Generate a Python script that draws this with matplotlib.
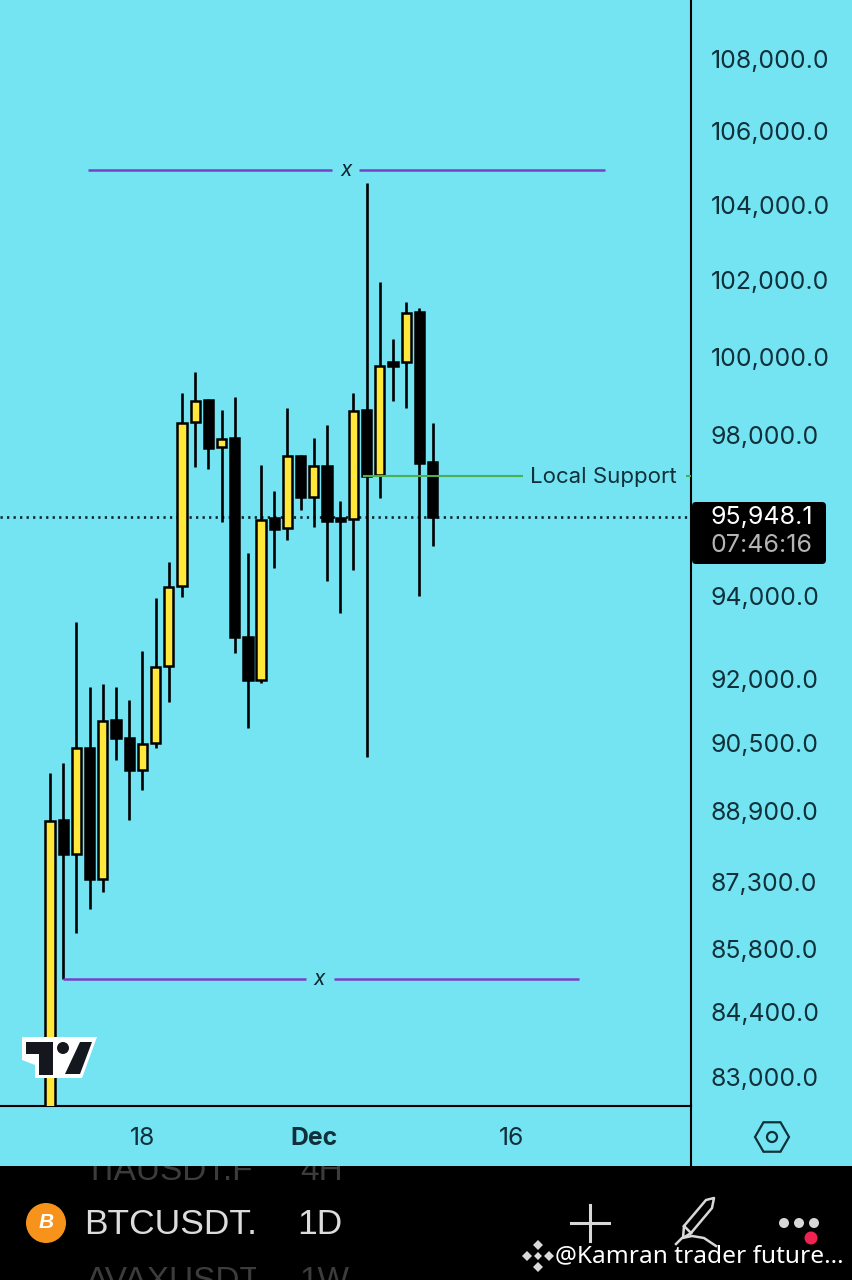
import matplotlib
matplotlib.use("Agg")
import matplotlib.pyplot as plt
from matplotlib.patches import Rectangle, FancyBboxPatch, Polygon, Circle, RegularPolygon

# ---------- data (daily BTCUSDT candles) ----------
opens = [80400, 88703, 87930, 90372, 87363, 91028, 90605, 89861, 90489, 92310,
         94241, 98319, 98888, 97688, 97915, 93003, 91975, 95912, 95663, 97462,
         96436, 97210, 95912, 95888, 98631, 96985, 99860, 99860, 101162, 97311]
closes = [88680, 87930, 90372, 87363, 91005, 90605, 89861, 90466, 92286, 94217,
          98293, 98862, 97663, 97890, 93003, 91975, 95863, 95638, 97462, 96436,
          97210, 95838, 95838, 98605, 96960, 99756, 99756, 101135, 97286, 95948.1]
highs = [89790, 90023, 93361, 91808, 91880, 91808, 91501, 92668, 93948, 94826,
         99063, 99602, 98913, 98631, 98964, 95048, 97235, 96586, 98682, 97487,
         97915, 98242, 96336, 99063, 104593, 101949, 100455, 101425, 101267, 98293]
lows = [79800, 85130, 86148, 86688, 87069, 90093, 88703, 89403, 90372, 91454,
        93972, 97185, 97135, 95817, 92620, 90841, 91903, 94680, 95369, 96111,
        95687, 94363, 93588, 94630, 90163, 96411, 98862, 98682, 93997, 95223]

price_ticks = [108000, 106000, 104000, 102000, 100000, 98000, 94000, 92000,
               90500, 88900, 87300, 85800, 84400, 83000]
price_labels = ["108,000.0", "106,000.0", "104,000.0", "102,000.0", "100,000.0",
                "98,000.0", "94,000.0", "92,000.0", "90,500.0", "88,900.0",
                "87,300.0", "85,800.0", "84,400.0", "83,000.0"]
date_ticks = [7, 20, 35]
date_labels = ["18", "Dec", "16"]

last_price = 95948.1
upper_level = 104950
lower_level = 85130
support_level = 96960

BG = "#74E4F3"
YEL = "#FFE83A"
PUR = "#7A3FC8"
GRN = "#4CAF50"
FONT = "Inter"

plt.rcParams["font.family"] = [FONT, "DejaVu Sans"]

fig = plt.figure(figsize=(8.52, 12.8), dpi=100, facecolor=BG)
W, H = 852, 1280
ax = fig.add_axes([0, (H - 1106) / H, 691 / W, 1106 / H], facecolor=BG)
ax.set_yscale("log")
ax.set_ylim(82380, 109661)
ax.set_xlim(-3.797, 48.6)

# candles
idx = list(range(len(opens)))
ax.vlines(idx, lows, highs, color="black", lw=1.9, zorder=3)
for i, o, c in zip(idx, opens, closes):
    up = c >= o
    ax.bar(i, abs(c - o), bottom=min(o, c), width=0.7,
           color=YEL if up else "black", edgecolor="black", linewidth=1.8, zorder=4)

# last price line
ax.axhline(last_price, color="#08222a", lw=1.9, dashes=(0.85, 1.62), zorder=2)

# drawn levels
ax.hlines(upper_level, 2.89, 21.4, color=PUR, lw=1.8, zorder=3)
ax.hlines(upper_level, 23.4, 42.07, color=PUR, lw=1.8, zorder=3)
ax.text(22.4, upper_level, "x", style="italic", fontsize=15, ha="center", va="center", color="#10262e")
ax.hlines(lower_level, 1.0, 19.4, color=PUR, lw=1.8, zorder=3)
ax.hlines(lower_level, 21.5, 40.1, color=PUR, lw=1.8, zorder=3)
ax.text(20.4, lower_level, "x", style="italic", fontsize=15, ha="center", va="center", color="#10262e")
ax.hlines(support_level, 23.7, 35.85, color=GRN, lw=1.5, zorder=5)
ax.hlines(support_level, 48.2, 48.6, color=GRN, lw=1.5, zorder=5)
ax.text(36.38, 96925, "Local Support", fontsize=16, ha="left", va="center", color="#10303a")

# axes
ax.yaxis.tick_right()
ax.set_yticks(price_ticks)
ax.set_yticklabels(price_labels, fontsize=17.9, color="#10303a")
ax.minorticks_off()
ax.tick_params(axis="y", which="both", length=0, pad=14.3)
ax.set_xticks(date_ticks)
ax.set_xticklabels(date_labels, fontsize=17.8, color="#10303a")
ax.get_xticklabels()[1].set_fontweight("bold")
ax.tick_params(axis="x", length=0, pad=15)
for s in ("top", "left"):
    ax.spines[s].set_visible(False)
for s in ("right", "bottom"):
    ax.spines[s].set_linewidth(1.5)
    ax.spines[s].set_color("black")

# overlay in pixels: price tag, logo, bottom bar
ov = fig.add_axes([0, 0, 1, 1], zorder=10)
ov.set_xlim(0, W)
ov.set_ylim(H, 0)
ov.axis("off")

ov.plot([691, 691], [1106, 1166], color="black", lw=1.5)
ov.add_patch(FancyBboxPatch((692, 502), 134, 62, boxstyle="round,pad=0,rounding_size=4",
                            fc="black", ec="none"))
ov.text(762, 518, "95,948.1", color="white", fontsize=18, ha="center", va="center")
ov.text(762, 546, "07:46:16", color="#b5b5b5", fontsize=18, ha="center", va="center")

# TradingView mark
ov.add_patch(Polygon([(22, 1037), (97, 1037), (82, 1078), (35, 1078), (35, 1065), (22, 1060)],
                     fc="white", ec="none"))
ov.add_patch(Polygon([(26, 1042), (53, 1042), (53, 1075), (39, 1075), (39, 1054), (26, 1054)],
                     fc="#15171f", ec="none"))
ov.add_patch(Circle((63, 1048), 6, fc="#15171f", ec="none"))
ov.add_patch(Polygon([(80, 1042), (92, 1042), (80, 1074), (65, 1074)], fc="#15171f", ec="none"))

# hexagon settings icon
ov.add_patch(RegularPolygon((772, 1137), 6, radius=17, orientation=3.14159 / 6,
                            fc="none", ec="#10303a", lw=1.6))
ov.add_patch(Circle((772, 1137), 5, fc="none", ec="#10303a", lw=1.6))

# bottom bar
ov.add_patch(Rectangle((0, 1166), W, 114, fc="black", ec="none"))
clip1 = Rectangle((84, 1166), 172, 114, transform=ov.transData)
clip2 = Rectangle((290, 1166), 80, 114, transform=ov.transData)
for x, y, s, clip in [(84, 1172, "TIAUSDT.F", clip1), (300, 1172, "4H", clip2),
                      (86, 1282, "AVAXUSDT", clip1), (300, 1282, "1W", clip2)]:
    t = ov.text(x, y, s, color="#3c3c3c", fontsize=24, ha="left", va="center",
                family="Liberation Sans")
    t.set_clip_path(clip)
    t.set_clip_on(True)

ov.add_patch(Circle((46, 1223), 20, fc="#F7931A", ec="none"))
ov.text(46, 1223, "B", color="white", fontsize=15, fontweight="bold", style="italic",
        ha="center", va="center", family="Liberation Sans")
ov.text(84, 1225, "BTCUSDT.", color="#dcdcdc", fontsize=25.5, ha="left", va="center",
        family="Liberation Sans")
ov.text(297, 1225, "1D", color="#dcdcdc", fontsize=25.5, ha="left", va="center",
        family="Liberation Sans")

# plus
ov.plot([571, 609], [1223, 1223], color="#d8d8d8", lw=2.2)
ov.plot([590, 590], [1205, 1241], color="#d8d8d8", lw=2.2)
# pen
ov.plot([684, 706, 714, 712, 691, 683, 684, 691], [1226, 1200, 1198, 1208, 1233, 1238, 1226, 1233],
        color="#d8d8d8", lw=1.8)
ov.plot([676, 682, 692, 704, 716], [1244, 1238, 1236, 1238, 1246], color="#d8d8d8", lw=1.8)
# dots
for x in (784, 799, 814):
    ov.add_patch(Circle((x, 1223), 5, fc="#d8d8d8", ec="none"))
ov.add_patch(Circle((811, 1238), 6.5, fc="#F0224F", ec="none"))

# watermark
for cx, cy, r in [(538, 1245, 4), (527, 1256, 4), (549, 1256, 4), (538, 1267, 4), (538, 1256, 3)]:
    ov.add_patch(RegularPolygon((cx, cy), 4, radius=r + 1, fc="#d9d9d9", ec="none"))
ov.text(555, 1256, "@Kamran trader future...", color="white", fontsize=17.6, ha="left",
        va="center", family="Noto Sans")

fig.savefig("out.png", dpi=100, facecolor=BG)
